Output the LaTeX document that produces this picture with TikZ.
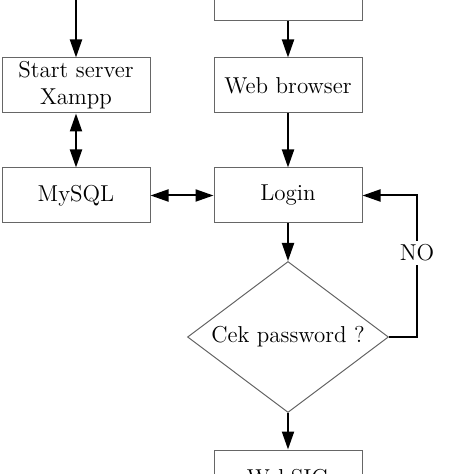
\documentclass[tikz,border=0pt]{standalone}
\usetikzlibrary{arrows.meta,shapes.geometric}
\tikzset{
  box/.style={draw=black!60, line width=0.5pt, minimum width=74pt, minimum height=27.5pt,
    inner sep=0pt, align=center, font=\fontsize{11.5}{13.5}\selectfont},
  decision/.style={diamond, draw=black!60, line width=0.5pt, aspect=1.33,
    minimum width=100.5pt, minimum height=75.5pt, inner sep=0pt, font=\fontsize{11.5}{13.5}\selectfont},
  link/.style={line width=1pt, -{Triangle[length=9pt,width=6pt]}},
  twoway/.style={line width=1pt, {Triangle[length=9pt,width=6pt]}-{Triangle[length=9pt,width=6pt]}},
}
\begin{document}
\begin{tikzpicture}[x=0.5pt,y=-0.5pt]
  \useasboundingbox (0,0) rectangle (474,474);
  \node[box] (top) at (288,-7) {};
  \node[box] (start) at (76,85.5) {Start server\\Xampp};
  \node[box] (browser) at (288,85.5) {Web browser};
  \node[box] (mysql) at (76,195.5) {MySQL};
  \node[box] (login) at (288,195.5) {Login};
  \node[decision] (cek) at (288,337) {Cek password ?};
  \node[box] (websig) at (288,477.5) {WebSIG};
  \coordinate (in) at (76,-20);
  \coordinate (noturn) at (417,195.5);
  \begin{scope}[link]
    \draw (in) to (start);
    \draw (top) to (browser);
    \draw (browser) to (login);
    \draw (login) to (cek);
    \draw (cek) to (websig);
    \draw (cek.east) -| (noturn) -- (login.east);
  \end{scope}
  \begin{scope}[twoway]
    \draw (start) to (mysql);
    \draw (mysql) to (login);
  \end{scope}
  \node[fill=white, inner sep=2pt, font=\fontsize{11.5}{13.5}\selectfont] (no) at (417,253) {NO};
\end{tikzpicture}
\end{document}
